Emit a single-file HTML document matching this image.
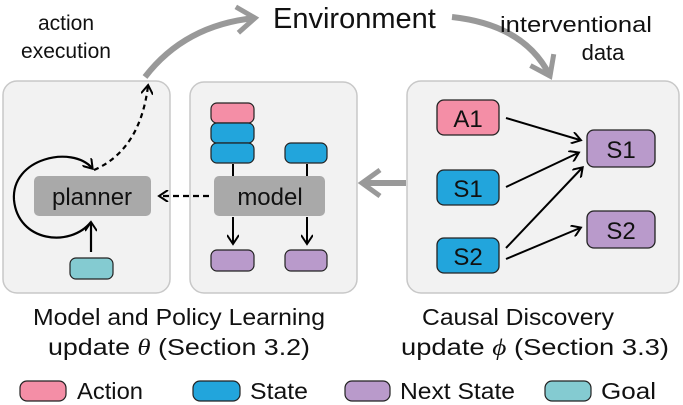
<!DOCTYPE html>
<html><head><style>
body{margin:0;width:683px;height:405px;background:#fff;overflow:hidden;font-family:"Liberation Sans",sans-serif}
svg{display:block}
text{font-family:"Liberation Sans",sans-serif;fill:#111}
</style></head><body>
<svg width="683" height="405" viewBox="0 0 683 405">
<defs>
<marker id="ah" markerWidth="12" markerHeight="12" refX="9" refY="6" orient="auto" markerUnits="userSpaceOnUse"><path d="M1,0 L10,6 L1,12" fill="none" stroke="#000" stroke-width="2"/></marker>
<marker id="gh" markerWidth="30" markerHeight="30" refX="24" refY="15" orient="auto" markerUnits="userSpaceOnUse"><path d="M6,2 L24,15 L6,28" fill="none" stroke="#999" stroke-width="5"/></marker>
</defs>
<rect x="3" y="81" width="167" height="212" rx="14" fill="#f2f2f2" stroke="#c8c8c8" stroke-width="1.5"/>
<rect x="190" y="82" width="167" height="211" rx="14" fill="#f2f2f2" stroke="#c8c8c8" stroke-width="1.5"/>
<rect x="407" y="81" width="272" height="212" rx="14" fill="#f2f2f2" stroke="#c8c8c8" stroke-width="1.5"/>

<path d="M145,77 Q185,25 255,18" fill="none" stroke="#999" stroke-width="6" marker-end="url(#gh)"/>
<path d="M452,17 Q525,25 550,76" fill="none" stroke="#999" stroke-width="6" marker-end="url(#gh)"/>
<path d="M406,183 L362,183" fill="none" stroke="#999" stroke-width="6" marker-end="url(#gh)"/>
<text x="273" y="28" font-size="29">Environment</text>
<text x="66" y="30" font-size="21" text-anchor="middle">action</text>
<text x="66" y="58" font-size="21" text-anchor="middle">execution</text>
<text x="576" y="32" font-size="22" text-anchor="middle" textLength="152" lengthAdjust="spacingAndGlyphs">interventional</text>
<text x="603" y="60" font-size="22" text-anchor="middle">data</text>

<path d="M94,170 Q140,150 148,86" fill="none" stroke="#000" stroke-width="2.2" stroke-dasharray="5,4" marker-end="url(#ah)"/>
<path d="M91,222 C70,248 18,242 14,200 C11,158 72,145 92,168" fill="none" stroke="#000" stroke-width="2.2" marker-end="url(#ah)"/>
<path d="M91,252 L91,223" fill="none" stroke="#000" stroke-width="2.2" marker-end="url(#ah)"/>
<rect x="34" y="176" width="117" height="40" rx="5" fill="#a9a9a9"/>
<text x="92" y="205" font-size="24" text-anchor="middle">planner</text>
<rect x="70" y="258" width="43" height="21" rx="6" fill="#84cbd1" stroke="#222" stroke-width="1.2"/>

<path d="M209,196 L160,196" fill="none" stroke="#000" stroke-width="2.2" stroke-dasharray="6,4" marker-end="url(#ah)"/>
<line x1="233" y1="164" x2="233" y2="176" stroke="#000" stroke-width="2"/>
<line x1="307" y1="164" x2="307" y2="176" stroke="#000" stroke-width="2"/>
<rect x="214" y="176" width="111" height="40" rx="5" fill="#a9a9a9"/>
<text x="270" y="205" font-size="24" text-anchor="middle">model</text>
<path d="M233,217 L233,243" stroke="#000" stroke-width="2" fill="none" marker-end="url(#ah)"/>
<path d="M307,217 L307,243" stroke="#000" stroke-width="2" fill="none" marker-end="url(#ah)"/>
<rect x="211" y="103" width="43" height="20" rx="6" fill="#f48ea6" stroke="#222" stroke-width="1.2"/>
<rect x="211" y="123" width="43" height="20" rx="6" fill="#22a5dc" stroke="#222" stroke-width="1.2"/>
<rect x="211" y="143" width="43" height="20" rx="6" fill="#22a5dc" stroke="#222" stroke-width="1.2"/>
<rect x="285" y="143" width="42" height="20" rx="6" fill="#22a5dc" stroke="#222" stroke-width="1.2"/>
<rect x="211" y="250" width="43" height="21" rx="6" fill="#b99acb" stroke="#222" stroke-width="1.2"/>
<rect x="285" y="250" width="42" height="21" rx="6" fill="#b99acb" stroke="#222" stroke-width="1.2"/>

<rect x="437" y="100" width="62" height="35" rx="7" fill="#f48ea6" stroke="#222" stroke-width="1.3"/>
<rect x="437" y="170" width="62" height="35" rx="7" fill="#22a5dc" stroke="#222" stroke-width="1.3"/>
<rect x="437" y="238" width="62" height="35" rx="7" fill="#22a5dc" stroke="#222" stroke-width="1.3"/>
<rect x="587" y="130" width="68" height="37" rx="7" fill="#b99acb" stroke="#222" stroke-width="1.3"/>
<rect x="587" y="211" width="68" height="37" rx="7" fill="#b99acb" stroke="#222" stroke-width="1.3"/>
<text x="468" y="127" font-size="24" text-anchor="middle">A1</text>
<text x="468" y="197" font-size="24" text-anchor="middle">S1</text>
<text x="468" y="265" font-size="24" text-anchor="middle">S2</text>
<text x="621" y="158" font-size="24" text-anchor="middle">S1</text>
<text x="621" y="239" font-size="24" text-anchor="middle">S2</text>
<g stroke="#000" stroke-width="2" fill="none">
<path d="M506,118 L580,140" marker-end="url(#ah)"/>
<path d="M506,187 L578,153" marker-end="url(#ah)"/>
<path d="M506,248 L582,168" marker-end="url(#ah)"/>
<path d="M506,259 L580,228" marker-end="url(#ah)"/>
</g>

<text x="179" y="325" font-size="23" text-anchor="middle" textLength="292" lengthAdjust="spacingAndGlyphs">Model and Policy Learning</text>
<text x="179" y="355" font-size="23" text-anchor="middle" textLength="262" lengthAdjust="spacingAndGlyphs">update <tspan font-family="Liberation Serif" font-style="italic">θ</tspan>  (Section 3.2)</text>
<text x="518" y="325" font-size="23" text-anchor="middle" textLength="192" lengthAdjust="spacingAndGlyphs">Causal Discovery</text>
<text x="535" y="355" font-size="23" text-anchor="middle" textLength="268" lengthAdjust="spacingAndGlyphs">update <tspan font-family="Liberation Serif" font-style="italic">ϕ</tspan>  (Section 3.3)</text>

<rect x="20" y="381" width="46" height="20" rx="7" fill="#f48ea6" stroke="#222" stroke-width="1.2"/>
<text x="77" y="399" font-size="23" textLength="66" lengthAdjust="spacingAndGlyphs">Action</text>
<rect x="193" y="381" width="47" height="20" rx="7" fill="#22a5dc" stroke="#222" stroke-width="1.2"/>
<text x="250" y="399" font-size="23" textLength="58" lengthAdjust="spacingAndGlyphs">State</text>
<rect x="345" y="381" width="45" height="20" rx="7" fill="#b99acb" stroke="#222" stroke-width="1.2"/>
<text x="400" y="399" font-size="23" textLength="115" lengthAdjust="spacingAndGlyphs">Next State</text>
<rect x="545" y="381" width="46" height="20" rx="7" fill="#84cbd1" stroke="#222" stroke-width="1.2"/>
<text x="601" y="399" font-size="23" textLength="55" lengthAdjust="spacingAndGlyphs">Goal</text>
</svg>
</body></html>
